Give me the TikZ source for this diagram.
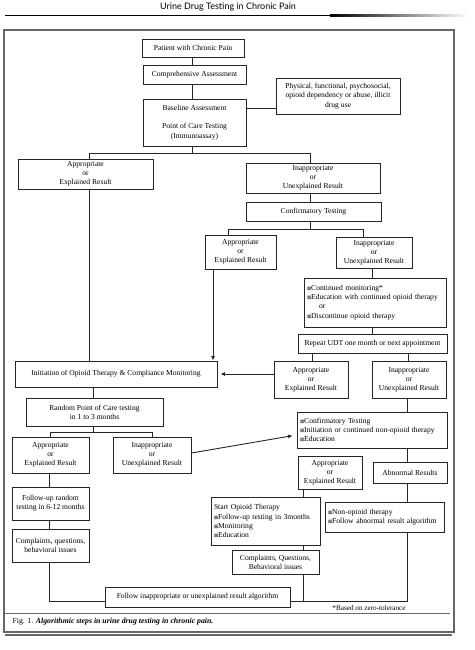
\documentclass[tikz,border=0pt]{standalone}
\usepackage{fontspec}
\setmainfont{Liberation Serif}
\newfontfamily\hdrfont{Lato}
\newfontfamily\dejavu{DejaVu Sans}
\usetikzlibrary{arrows.meta}
\newcommand\bodyf{\fontsize{7.6}{9.2}\selectfont}
\newcommand\bxx{{\dejavu\fontsize{5}{5}\selectfont ⊠}}
\newcommand\bn[7][]{\node[bx,minimum width={#5pt-#3pt},minimum height={#6pt-#4pt},#1] (#2) at ({(#3+#5)/2},{(#4+#6)/2}) {#7};}
\begin{document}
\begin{tikzpicture}[x=1pt,y=-1pt,
 bx/.style={draw=black!85, line width=0.9pt, inner sep=1pt, align=center, font=\bodyf},
 lbx/.style={align=left, inner xsep=3pt, text width=#1},
 ln/.style={draw=black!85, line width=0.9pt},
 arr/.style={ln, -{Latex[length=4.5pt,width=4pt]}},
 frm/.style={draw=black!60, line width=1.5pt}]
\useasboundingbox (0,0) rectangle (474,650);
\fill[white] (0,0) rectangle (474,650);
% header
\node[font=\hdrfont\fontsize{9}{10}\selectfont] (hdr) at (228,7) {Urine Drug Testing in Chronic Pain};
\fill[black] (5,14.8) rectangle (330,16.4);
\shade[left color=black, right color=white] (330,14.8) rectangle (468,16.4);
% frame
\draw[frm] (4,30) rectangle (454,632);
\draw[draw=black!60, line width=1pt] (4,613) -- (450,613);
\draw[draw=black!60, line width=1.2pt] (5,635) -- (452,635);
% column / row coordinates
\foreach \c in {49,89,93,192,213,228,303,310,312,363,372,407,408} {\coordinate (c\c) at (\c,0);}
\foreach \r in {108,153,229,374,432,435,453,601} {\coordinate (r\r) at (0,\r);}
% nodes
\bn{patient}{142}{39}{244}{57}{Patient with Chronic Pain}
\bn{compr}{143}{65}{246}{84}{Comprehensive Assessment}
\bn{base}{143}{99}{246}{146}{Baseline Assessment\\[9.2pt]Point of Care Testing\\(Immunoassay)}
\bn{phys}{276}{78}{400}{114}{Physical, functional, psychosocial,\\opioid dependency or abuse, illicit\\drug use}
\bn{app1}{18}{159}{153}{189}{Appropriate\\or\\Explained Result}
\bn{inapp1}{246}{163}{380}{193}{Inappropriate\\or\\Unexplained Result}
\bn{confirm}{246}{202}{381}{221}{Confirmatory Testing}
\bn{app2}{205}{235}{276}{269}{Appropriate\\or\\Explained Result}
\bn{inapp2}{336}{237}{412}{268}{Inappropriate\\or\\Unexplained Result}
\bn[lbx=136pt]{bul1}{304}{278}{446}{327}{\bxx Continued monitoring*\\\bxx Education with continued opioid therapy\\\hspace*{12pt}or\\\bxx Discontinue opioid therapy}
\bn{repeat}{298}{334}{447}{353}{Repeat UDT one month or next appointment}
\bn{app3}{274}{361}{348}{398}{Appropriate\\or\\Explained Result}
\bn{inapp3}{372}{361}{446}{398}{Inappropriate\\or\\Unexplained Result}
\bn{init}{15}{361}{217}{387}{Initiation of Opioid Therapy \& Compliance Monitoring}
\bn{random}{26}{398}{163}{426}{Random Point of Care testing\\in 1 to 3 months}
\bn{app4}{12}{437}{89}{473}{Appropriate\\or\\Explained Result}
\bn{inapp4}{113}{437}{191}{473}{Inappropriate\\or\\Unexplained Result}
\bn[lbx=144pt]{bul2}{297}{412}{447}{448}{\bxx Confirmatory Testing\\\bxx Initiation or continued non-opioid therapy\\\bxx Education}
\bn{followup}{12}{487}{89}{520}{Follow-up random\\testing in 6-12 months}
\bn{compl1}{12}{529}{89}{562}{Complaints, questions,\\behavioral issues}
\bn{app5}{298}{456}{362}{489}{Appropriate\\or\\Explained Result}
\bn{abnormal}{373}{462}{447}{483}{Abnormal Results}
\bn[lbx=103pt]{start}{211}{497}{320}{545}{Start Opioid Therapy\\\bxx Follow-up testing in 3months\\\bxx Monitoring\\\bxx Education}
\bn{compl2}{232}{550}{319}{574}{Complaints, Questions,\\Behavioral issues}
\bn[lbx=113pt]{nonop}{325}{502}{444}{532}{\bxx Non-opioid therapy\\\bxx Follow abnormal result algorithm}
\bn{follow}{105}{587}{290}{607}{Follow inappropriate or unexplained result algorithm}
% connectors
\draw[ln] (patient.south -| c192) -- (compr.north -| c192);
\draw[ln] (compr.south -| c192) -- (base.north -| c192);
\draw[ln] (base.east |- r108) -- (phys.west |- r108);
\draw[ln] (base.south -| c192) -- (c192 |- r153);
\draw[ln] (app1.north -| c89) |- (r153 -| c310) -- (inapp1.north -| c310);
\draw[ln] (app1.south -| c89) -- (init.north -| c89);
\draw[ln] (inapp1.south -| c310) -- (confirm.north -| c310);
\draw[ln] (confirm.south -| c310) -- (c310 |- r229);
\draw[ln] (app2.north -| c228) |- (r229 -| c363) -- (inapp2.north -| c363);
\draw[arr] (app2.south -| c213) -- (init.north -| c213);
\draw[ln] (inapp2.south -| c372) -- (bul1.north -| c372);
\draw[ln] (bul1.south -| c372) -- (repeat.north -| c372);
\draw[ln] (repeat.south -| c312) -- (app3.north -| c312);
\draw[ln] (repeat.south -| c408) -- (inapp3.north -| c408);
\draw[arr, shorten >=3pt] (app3.west |- r374) -- (init.east |- r374);
\draw[ln] (inapp3.south -| c407) -- (bul2.north -| c407);
\draw[ln] (init.south -| c93) -- (random.north -| c93);
\draw[ln] (random.south -| c93) -- (c93 |- r432);
\draw[ln] (app4.north) |- (r432 -| inapp4.north) -- (inapp4.north);
\draw[arr, shorten >=4pt] (inapp4.east |- r453) -- (bul2.west |- r435);
\draw[ln] (app4.south -| c49) -- (followup.north -| c49);
\draw[ln] (followup.south -| c49) -- (compl1.north -| c49);
\draw[ln] (compl1.south -| c49) |- (follow.west |- r601);
\draw[ln] (bul2.south -| c407) -- (abnormal.north -| c407);
\draw[ln] (abnormal.south -| c407) -- (nonop.north -| c407);
\draw[ln] (nonop.south -| c407) |- (follow.east |- r601);
\draw[ln] (app5.south -| c303) -- (start.north -| c303);
\draw[ln] (start.south -| c303) -- (compl2.north -| c303);
\draw[ln] (compl2.south -| c303) -- (c303 |- r601);
% notes
\node[font=\fontsize{7.2}{8}\selectfont] (note) at (369,608) {*Based on zero-tolerance};
\node[anchor=west, font=\fontsize{7.8}{9}\selectfont] (cap) at (9,622) {Fig. 1. \textbf{\textit{Algorithmic steps in urine drug testing in chronic pain.}}};
\end{tikzpicture}
\end{document}
